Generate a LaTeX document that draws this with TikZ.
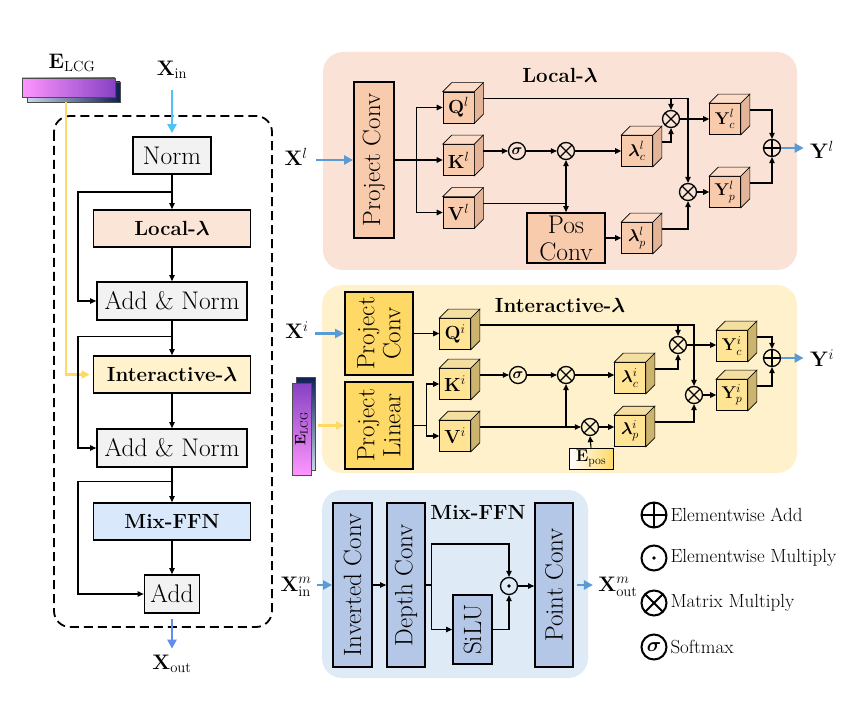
\RequirePackage{fix-cm}
\documentclass[tikz,border=0pt]{standalone}
\usepackage{amsmath,amssymb,bm}
\usepackage{tikz}
\usetikzlibrary{arrows.meta,positioning,calc,shapes}
\definecolor{normgrey}{RGB}{242,242,242}
\definecolor{localfill}{RGB}{251,229,214}
\definecolor{localbg}{RGB}{250,227,214}
\definecolor{localbox}{RGB}{248,203,173}
\definecolor{localtop}{RGB}{251,221,202}
\definecolor{localside}{RGB}{228,180,152}
\definecolor{interfill}{RGB}{255,242,204}
\definecolor{interbg}{RGB}{254,241,204}
\definecolor{interbox}{RGB}{255,217,102}
\definecolor{intercube}{RGB}{255,228,150}
\definecolor{intertop}{RGB}{244,222,160}
\definecolor{interside}{RGB}{204,180,110}
\definecolor{mixfill}{RGB}{218,232,252}
\definecolor{mixbg}{RGB}{222,234,246}
\definecolor{mixbox}{RGB}{180,199,231}
\definecolor{inblue}{RGB}{79,195,247}
\definecolor{flowblue}{RGB}{91,155,213}
\definecolor{outblue}{RGB}{100,140,235}
\definecolor{lcgyellow}{RGB}{255,217,102}
\definecolor{lcgpink}{RGB}{255,150,255}
\definecolor{lcgpurple}{RGB}{135,65,195}
\definecolor{lcgnavy}{RGB}{15,30,85}
\definecolor{lcgpale}{RGB}{200,215,235}

\begin{document}
\begin{tikzpicture}[x=1pt, y=-1pt,
    box/.style={rectangle, draw, line width=1.8, inner sep=0pt, font=\fontsize{25.5}{27}\selectfont},
    normbox/.style={box, fill=normgrey, minimum height=37},
    boldbox/.style={box, minimum width=157, minimum height=37, font=\fontsize{20.5}{24}\selectfont\bfseries},
    vbox/.style={box, minimum width=39, minimum height=164, fill=mixbox},
    vtext/.style={rotate=90, align=center, font=\fontsize{25}{26}\selectfont},
    cubeL/.style={rectangle, draw, line width=0.6, minimum size=31, inner sep=0pt, fill=localbox, font=\fontsize{19}{20}\selectfont},
    cubeI/.style={cubeL, fill=intercube},
    lam/.style={font=\fontsize{17}{18}\selectfont},
    op/.style={circle, draw, line width=1.3, minimum size=17, inner sep=0pt},
    mmul/.style={op, path picture={\draw (path picture bounding box.north west) -- (path picture bounding box.south east)
        (path picture bounding box.north east) -- (path picture bounding box.south west);}},
    eadd/.style={op, path picture={\draw (path picture bounding box.north) -- (path picture bounding box.south)
        (path picture bounding box.east) -- (path picture bounding box.west);}},
    emul/.style={op, path picture={\fill (path picture bounding box.center) circle (1.8pt);}},
    smax/.style={op, font=\fontsize{15}{15}\selectfont},
    bigop/.style={line width=2, minimum size=25},
    conn/.style={line width=1.1, -{Triangle[length=6pt, width=5.5pt]}},
    plain/.style={line width=1.1},
    flow/.style={flowblue, line width=2.6, -{Triangle[length=9pt, width=9pt]}},
    panel/.style={rectangle, rounded corners=20, draw=none},
    title/.style={font=\fontsize{20.5}{24}\selectfont\bfseries},
    xlabel/.style={font=\fontsize{21}{24}\selectfont},
    legtext/.style={anchor=west, font=\fontsize{19}{22}\selectfont}
]
    \useasboundingbox (0,0) rectangle (849,703);

    % encoder block
    \draw[line width=1.8, dash pattern=on 9pt off 5pt, rounded corners=16] (54,116) rectangle (272,627);
    \node[xlabel] (elcgl) at (72,63) {$\mathbf{E}_{\text{LCG}}$};
    \node[rectangle, draw=black!70, line width=0.5, minimum width=93, minimum height=20, left color=lcgpale, right color=lcgnavy] (elcgback) at (73.5,92) {};
    \node[rectangle, draw=black!70, line width=0.5, minimum width=93, minimum height=19, left color=lcgpink, right color=lcgpurple] (elcgbar) at (68.5,87.5) {};
    \node[xlabel] (xin) at (172,70) {$\mathbf{X}_{\text{in}}$};

    \node[normbox, minimum width=78] (norm) at (172,155.5) {Norm};
    \node[boldbox, fill=localfill] (localL) at (172,228.5) {Local-$\bm{\lambda}$};
    \node[normbox, minimum width=150, minimum height=38] (addA) at (172,301) {Add \& Norm};
    \node[boldbox, fill=interfill] (interL) at (172,374.5) {Interactive-$\bm{\lambda}$};
    \node[normbox, minimum width=150, minimum height=38] (addB) at (172,448) {Add \& Norm};
    \node[boldbox, fill=mixfill] (mixL) at (172,521.5) {Mix-FFN};
    \node[normbox, minimum width=55, minimum height=38] (addC) at (172,594) {Add};
    \node[xlabel] (xout) at (172,664) {$\mathbf{X}_{\text{out}}$};

    \draw[inblue, line width=2.6, -{Triangle[length=9pt, width=9pt]}, shorten >=3] ([yshift=-8]xin.south) -- (norm.north);
    \draw[lcgyellow, line width=2.4, -{Triangle[length=8pt, width=8pt]}, shorten >=3] ([xshift=-7.5]elcgback.south) |- (interL.west);
    \draw[conn] (norm) -- (localL);
    \coordinate (b1) at ($(norm.south)!0.5!(localL.north)$);
    \draw[conn] (b1) -- ++(-94,0) |- (addA.west);
    \draw[conn] (localL) -- (addA);
    \draw[conn] (addA) -- (interL);
    \coordinate (b2) at ($(addA.south)!0.45!(interL.north)$);
    \draw[conn] (b2) -- ++(-94,0) |- (addB.west);
    \draw[conn] (interL) -- (addB);
    \draw[conn] (addB) -- (mixL);
    \coordinate (b3) at ($(addB.south)!0.4!(mixL.north)$);
    \draw[conn] (b3) -- ++(-94,0) |- (addC.west);
    \draw[conn] (mixL) -- (addC);
    \draw[outblue, line width=2.6, -{Triangle[length=9pt, width=9pt]}, shorten >=3] ([yshift=-5]addC.south) -- (xout.north);

    % local lambda
    \node[panel, fill=localbg, minimum width=474, minimum height=218] (localP) at (560,161) {};
    \node[title] (localT) at (560,75) {Local-$\bm{\lambda}$};
    \node[xlabel] (xl) at (296,157) {$\mathbf{X}^{l}$};
    \node[box, fill=localbox, minimum width=40, minimum height=156] (projL) at (374,160) {};
    \node[vtext] (projLt) at (projL) {Project Conv};
    \node[cubeL] (ql) at (458.5,107.5) {$\mathbf{Q}^{l}$};
    \node[cubeL] (kl) at (458.5,160) {$\mathbf{K}^{l}$};
    \node[cubeL] (vl) at (458.5,212.5) {$\mathbf{V}^{l}$};
    \node[smax] (sgl) at (517,151) {$\bm{\sigma}$};
    \node[mmul] (mml) at (566,151) {};
    \node[cubeL, lam] (lcl) at (637,151) {$\bm{\lambda}^{l}_{c}$};
    \node[box, fill=localbox, minimum width=78, minimum height=50, align=center] (posl) at (566,238) {Pos\\Conv};
    \node[cubeL, lam] (lpl) at (637,238) {$\bm{\lambda}^{l}_{p}$};
    \node[mmul] (mcl) at (671,119) {};
    \node[mmul] (mpl) at (688,192) {};
    \node[cubeL, lam] (ycl) at (725,119) {$\mathbf{Y}^{l}_{c}$};
    \node[cubeL, lam] (ypl) at (725,192) {$\mathbf{Y}^{l}_{p}$};
    \node[eadd] (adl) at (772,148) {};
    \node[xlabel] (yl) at (822,150) {$\mathbf{Y}^{l}$};

    % interactive lambda
    \node[panel, fill=interbg, minimum width=475, minimum height=188] (interP) at (559.5,379) {};
    \node[title] (interT) at (560,305) {Interactive-$\bm{\lambda}$};
    \node[xlabel] (xi) at (297,330) {$\mathbf{X}^{i}$};
    \node[rectangle, draw=black!70, line width=0.5, minimum width=19, minimum height=93, top color=lcgnavy, bottom color=lcgpale] (eback) at (305.5,423.5) {};
    \node[rectangle, draw=black!70, line width=0.5, minimum width=19, minimum height=92, top color=lcgpurple, bottom color=lcgpink] (efront) at (301.5,429) {};
    \node[rotate=90, font=\fontsize{15}{16}\selectfont] (efrontt) at (efront) {$\mathbf{E}_{\text{LCG}}$};
    \node[box, fill=interbox, minimum width=68, minimum height=83] (prjC) at (379,333.5) {};
    \node[vtext] (prjCt) at (prjC) {Project\\Conv};
    \node[box, fill=interbox, minimum width=68, minimum height=87] (prjLn) at (379,425.5) {};
    \node[vtext] (prjLnt) at (prjLn) {Project\\Linear};
    \node[cubeI] (qi) at (455,334) {$\mathbf{Q}^{i}$};
    \node[cubeI] (ki) at (455,384) {$\mathbf{K}^{i}$};
    \node[cubeI] (vi) at (455,436) {$\mathbf{V}^{i}$};
    \node[smax] (sgi) at (518,375) {$\bm{\sigma}$};
    \node[mmul] (mmi) at (566,375) {};
    \node[cubeI, lam] (lci) at (630,378) {$\bm{\lambda}^{i}_{c}$};
    \node[mmul] (mbi) at (590,427) {};
    \node[rectangle, draw, line width=0.8, minimum width=44, minimum height=21, inner sep=0pt, left color=white, right color=interbox, font=\fontsize{17}{18}\selectfont] (epos) at (591,458.5) {$\mathbf{E}_{\text{pos}}$};
    \node[cubeI, lam] (lpi) at (630,431) {$\bm{\lambda}^{i}_{p}$};
    \node[mmul] (mci) at (678,345) {};
    \node[mmul] (mpi) at (694,395) {};
    \node[cubeI, lam] (yci) at (732,346) {$\mathbf{Y}^{i}_{c}$};
    \node[cubeI, lam] (ypi) at (732,395) {$\mathbf{Y}^{i}_{p}$};
    \node[eadd] (adi) at (772,358) {};
    \node[xlabel] (yi) at (822,358) {$\mathbf{Y}^{i}$};

    \foreach \cb in {ql,kl,vl,lcl,lpl,ycl,ypl}{
        \filldraw[fill=localtop, line width=0.6] (\cb.north west) -- ++(9pt,9pt) -- ([shift={(9pt,9pt)}]\cb.north east) -- (\cb.north east) -- cycle;
        \filldraw[fill=localside, line width=0.6] (\cb.north east) -- ++(9pt,9pt) -- ([shift={(9pt,9pt)}]\cb.south east) -- (\cb.south east) -- cycle;
        \coordinate (\cb-o) at ([shift={(9pt,9pt)}]\cb.east);
    }
    \foreach \cb in {qi,ki,vi,lci,lpi,yci,ypi}{
        \filldraw[fill=intertop, line width=0.6] (\cb.north west) -- ++(9pt,9pt) -- ([shift={(9pt,9pt)}]\cb.north east) -- (\cb.north east) -- cycle;
        \filldraw[fill=interside, line width=0.6] (\cb.north east) -- ++(9pt,9pt) -- ([shift={(9pt,9pt)}]\cb.south east) -- (\cb.south east) -- cycle;
        \coordinate (\cb-o) at ([shift={(9pt,9pt)}]\cb.east);
    }

    \draw[flow, shorten <=5] (xl.east |- projL.west) -- (projL.west);
    \coordinate (sl) at ([xshift=22]projL.east);
    \draw[plain] (projL.east) -- (sl);
    \draw[conn] (sl) |- (ql.west);
    \draw[conn] (sl) -- (kl.west);
    \draw[conn] (sl) |- (vl.west);
    \draw[conn] (ql-o) -| (mpl.north);
    \draw[conn] (ql-o -| mcl) -- (mcl.north);
    \draw[conn] (kl-o) -- (sgl);
    \draw[conn] (sgl) -- (mml);
    \draw[conn] (mml) -- (mml -| lcl.west);
    \draw[conn] (lcl-o) -| (mcl.south);
    \coordinate (jl) at (vl-o -| mml);
    \draw[plain] (vl-o) -- (jl);
    \draw[conn] (jl) -- (mml.south);
    \draw[conn] (jl) -- (posl.north);
    \draw[conn] (posl.east) -- (posl.east -| lpl.west);
    \draw[conn] (lpl-o) -| (mpl.south);
    \draw[conn] (mcl) -- (mcl -| ycl.west);
    \draw[conn] (mpl) -- (mpl -| ypl.west);
    \draw[conn] (ycl-o) -| (adl.north);
    \draw[conn] (ypl-o) -| (adl.south);
    \draw[flow, shorten >=3] (adl.east) -- (adl.east -| yl.west);

    \draw[flow, shorten <=3] (prjC.west -| xi.east) -- (prjC.west);
    \draw[lcgyellow, line width=2.4, -{Triangle[length=8pt, width=8pt]}, shorten <=3] (prjLn.west -| eback.east) -- (prjLn.west);
    \draw[conn] (prjC.east) -- (prjC.east -| qi.west);
    \coordinate (si) at ([xshift=13]prjLn.east);
    \draw[plain] (prjLn.east) -- (si);
    \draw[conn] (si) |- (ki.west);
    \draw[conn] (si) |- (vi.west);
    \draw[conn] (qi-o) -| (mpi.north);
    \draw[conn] (qi-o -| mci) -- (mci.north);
    \draw[conn] (ki-o) -- (sgi);
    \draw[conn] (sgi) -- (mmi);
    \draw[conn] (mmi) -- (mmi -| lci.west);
    \draw[conn] (lci-o) -| (mci.south);
    \coordinate (ji) at (vi-o -| mmi);
    \draw[plain] (vi-o) -- (ji);
    \draw[conn] (ji) -- (mmi.south);
    \draw[conn] (ji) -- (mbi.west);
    \draw[conn] (mbi) -- (mbi -| lpi.west);
    \draw[conn] (epos.north) -- (mbi.south);
    \draw[conn] (lpi-o) -| (mpi.south);
    \draw[conn] (mci) -- (mci -| yci.west);
    \draw[conn] (mpi) -- (mpi -| ypi.west);
    \draw[conn] (yci-o) -| (adi.north);
    \draw[conn] (ypi-o) -| (adi.south);
    \draw[flow, shorten >=3] (adi.east) -- (adi.east -| yi.west);

    % mix-ffn
    \node[panel, fill=mixbg, minimum width=266, minimum height=188] (mixP) at (455,584) {};
    \node[title] (mixT) at (478,512) {Mix-FFN};
    \node[xlabel] (xmin) at (296,587) {$\mathbf{X}^{m}_{\text{in}}$};
    \node[vbox] (inv) at (352.5,585) {};
    \node[vtext] (invt) at (inv) {Inverted Conv};
    \node[vbox, minimum width=38] (dep) at (406,585) {};
    \node[vtext] (dept) at (dep) {Depth Conv};
    \node[vbox, minimum height=69] (silu) at (472.5,629.5) {};
    \node[vtext] (silut) at (silu) {SiLU};
    \node[emul] (ew) at (509,586) {};
    \node[vbox, minimum width=38] (pc) at (554,585) {};
    \node[vtext] (pct) at (pc) {Point Conv};
    \node[xlabel] (xmout) at (618,587) {$\mathbf{X}^{m}_{\text{out}}$};

    \draw[flow, shorten <=2] (xmin.east |- inv.west) -- (inv.west);
    \draw[conn] (inv.east) -- (dep.west);
    \coordinate (sm) at ([xshift=6]dep.east);
    \draw[plain] (dep.east) -- (sm);
    \draw[conn] (sm) -- ++(0,-41) -| (ew.north);
    \draw[conn] (sm) |- (silu.west);
    \draw[conn] (silu.east) -| (ew.south);
    \draw[conn] (ew) -- (ew -| pc.west);
    \draw[flow, shorten <=3, shorten >=2] (pc.east) -- (pc.east -| xmout.west);

    % legend
    \node[eadd, bigop] (lga) at (654,515) {};
    \node[legtext] (lgat) at (667,515) {Elementwise Add};
    \node[emul, bigop] (lgb) at (654,558) {};
    \node[legtext] (lgbt) at (667,558) {Elementwise Multiply};
    \node[mmul, bigop] (lgc) at (654,603) {};
    \node[legtext] (lgct) at (667,603) {Matrix Multiply};
    \node[smax, bigop, font=\fontsize{20}{20}\selectfont] (lgd) at (654,647) {$\bm{\sigma}$};
    \node[legtext] (lgdt) at (667,647) {Softmax};
\end{tikzpicture}
\end{document}
